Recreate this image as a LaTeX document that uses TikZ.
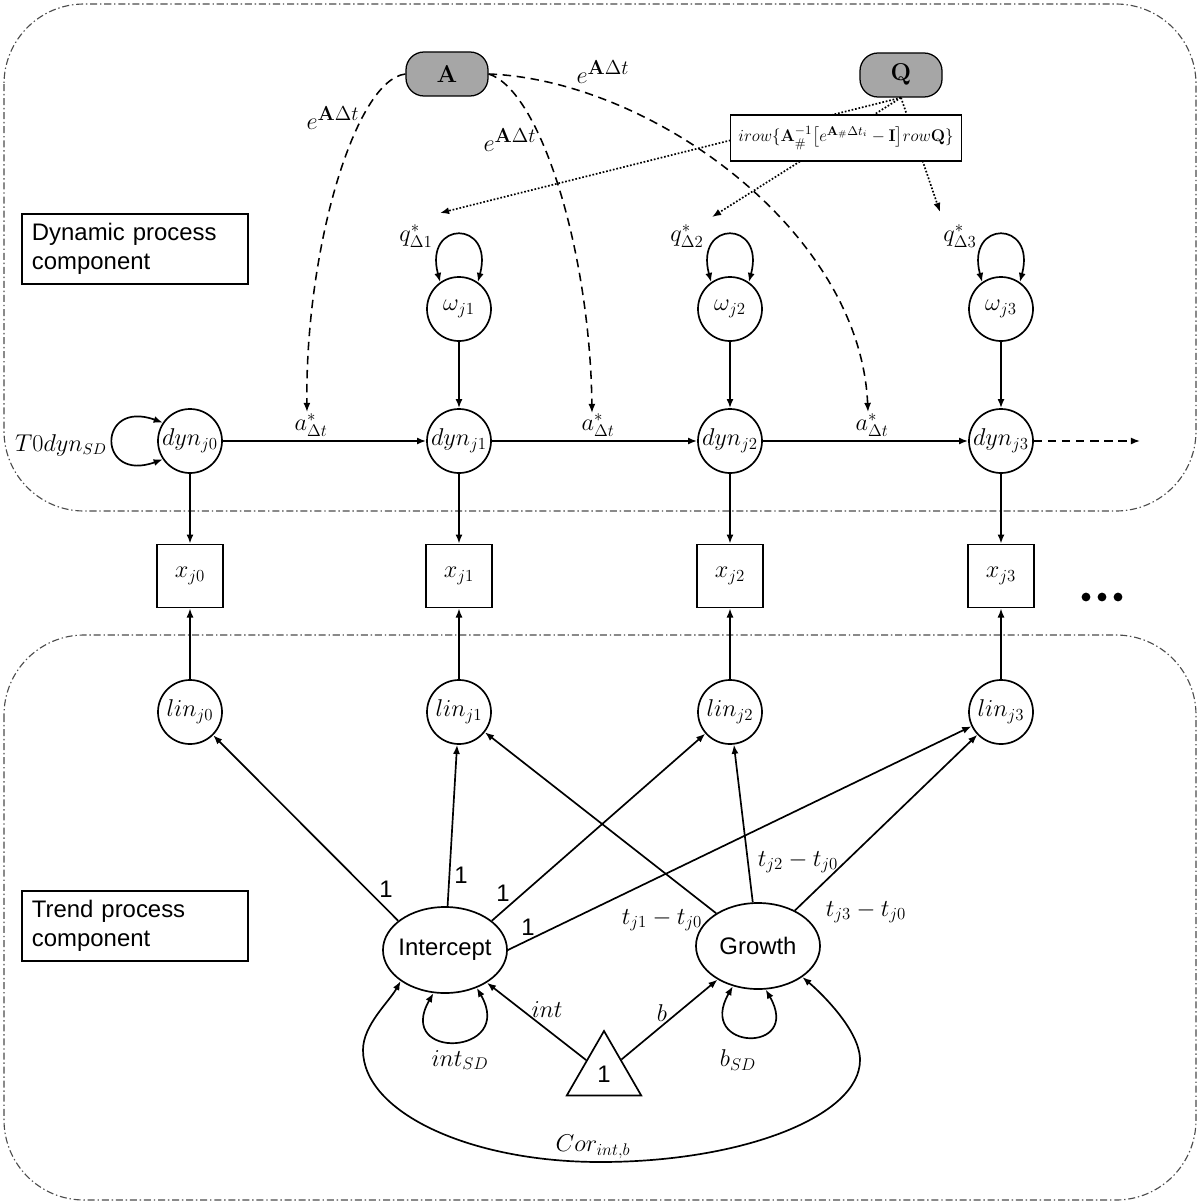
\documentclass[tikz,border=0pt]{standalone}
\usepackage[no-math]{fontspec}
\setmainfont{Liberation Sans}
\usepackage{amsmath}
\usetikzlibrary{arrows.meta,shapes.geometric}
\begin{document}
\begin{tikzpicture}[x=0.025cm,y=0.025cm,
  every node/.style={font=\fontsize{17}{21}\selectfont},
  >={Latex[length=6.5pt,width=5pt]},
  ln/.style={line width=1.2pt},
  lat/.style={circle,draw,line width=1.2pt,minimum size=1.6cm,inner sep=0pt},
  obs/.style={rectangle,draw,line width=1.2pt,minimum width=1.65cm,minimum height=1.575cm,inner sep=0pt},
  fac/.style={ellipse,draw,line width=1.2pt,minimum width=3.1cm,minimum height=2.15cm,inner sep=0pt},
  mat/.style={rectangle,draw,fill=black!35,rounded corners=0.45cm,minimum width=2.05cm,minimum height=1.1cm,line width=0.9pt,font=\fontsize{16}{19}\selectfont},
  frame/.style={draw=black!70,line width=0.8pt,dash pattern=on 5pt off 2pt on 1pt off 2pt,rounded corners=2cm},
  lbox/.style={draw,line width=1pt,minimum width=5.65cm,minimum height=1.75cm,text width=5.15cm,align=left,inner xsep=0.25cm},
  dsh/.style={line width=1.1pt,dash pattern=on 6pt off 4pt},
  dtt/.style={line width=1.2pt,dash pattern=on 1.2pt off 1.3pt},
  lab/.style={inner sep=1pt},
  big/.style={inner sep=1pt,font=\fontsize{19}{23}\selectfont},
]
\path[use as bounding box] (0,0) rectangle (1200,-1204);

% frames
\draw[frame] (4,-4) rectangle (1196,-511);
\draw[frame] (4,-635) rectangle (1196,-1200);

% component boxes
\node[lbox] (dpc) at (135,-249) {Dynamic process\\component};
\node[lbox] (tpc) at (135,-926) {Trend process\\component};

% matrices
\node[mat] (A) at (447,-74) {$\mathbf{A}$};
\node[mat] (Q) at (901,-75) {$\mathbf{Q}$};

% latent / observed
\node[lat] (d0) at (190,-441) {$dyn_{j0}$};
\node[lat] (d1) at (459,-441) {$dyn_{j1}$};
\node[lat] (d2) at (730,-441) {$dyn_{j2}$};
\node[lat] (d3) at (1001,-441) {$dyn_{j3}$};
\node[lat] (w1) at (459,-309) {$\omega_{j1}$};
\node[lat] (w2) at (730,-309) {$\omega_{j2}$};
\node[lat] (w3) at (1001,-309) {$\omega_{j3}$};
\node[obs] (x0) at (190,-576) {$x_{j0}$};
\node[obs] (x1) at (459,-576) {$x_{j1}$};
\node[obs] (x2) at (730,-576) {$x_{j2}$};
\node[obs] (x3) at (1001,-576) {$x_{j3}$};
\node[lat] (l0) at (190,-712) {$lin_{j0}$};
\node[lat] (l1) at (459,-712) {$lin_{j1}$};
\node[lat] (l2) at (730,-712) {$lin_{j2}$};
\node[lat] (l3) at (1001,-712) {$lin_{j3}$};
\node[fac] (I) at (445,-950) {\makebox[0pt]{Intercept}};
\node[fac] (G) at (758,-946) {\makebox[0pt]{Growth}};
\node[regular polygon,regular polygon sides=3,draw,line width=1.2pt,minimum size=2.15cm,inner sep=0pt] (T) at (604,-1074) {};
\node (one) at (604,-1074) {1};

% labels
\node[big] (e1) at (333,-118) {$e^{\mathbf{A}\Delta t}$};
\node[big] (e2) at (510,-140) {$e^{\mathbf{A}\Delta t}$};
\node[big] (e3) at (603,-72) {$e^{\mathbf{A}\Delta t}$};
\node[lab] (a1) at (311,-425) {$a^*_{\Delta t}$};
\node[lab] (a2) at (598,-425) {$a^*_{\Delta t}$};
\node[lab] (a3) at (872,-425) {$a^*_{\Delta t}$};
\node[lab] (q1) at (416,-236) {$q^*_{\Delta 1}$};
\node[lab] (q2) at (687,-236) {$q^*_{\Delta 2}$};
\node[lab] (q3) at (960,-236) {$q^*_{\Delta 3}$};
\node[lab,font=\fontsize{16}{19}\selectfont] (t0) at (61,-445) {$T0dyn_{SD}$};

% A paths
\coordinate (a1t) at (307,-412);
\coordinate (a2t) at (592,-413);
\coordinate (a3t) at (868,-412);
\draw[dsh,->] (A.west) .. controls (355,-80) and (305,-250) .. (a1t);
\draw[dsh,->] (A.east) .. controls (540,-90) and (590,-250) .. (a2t);
\draw[dsh,->] (A.east) .. controls (650,-80) and (860,-230) .. (a3t);

% Q paths
\coordinate (q1t) at (440,-213);
\coordinate (q2t) at (712,-217);
\coordinate (q3t) at (940,-212);
\draw[dtt,->] (Q.south) -- (q1t);
\draw[dtt,->] (Q.south) -- (q2t);
\draw[dtt,->] (Q.south) -- (q3t);
\node[draw,fill=white,line width=1pt,minimum width=5.78cm,minimum height=1.15cm,font=\fontsize{12.5}{15}\selectfont] (F) at (846,-138)
  {$irow\{\mathbf{A}_{\#}^{-1}\bigl[e^{\mathbf{A}_{\#}\Delta t_i}-\mathbf{I}\bigr]row\mathbf{Q}\}$};

% loops
\draw[ln,<->] (w1.125) to[out=105,in=75,looseness=4.4] (w1.55);
\draw[ln,<->] (w2.125) to[out=105,in=75,looseness=4.4] (w2.55);
\draw[ln,<->] (w3.125) to[out=105,in=75,looseness=4.4] (w3.55);
\draw[ln,<->] (d0.146) to[out=160,in=200,looseness=4.9] (d0.214);
\draw[ln,<->] (I.255) to[out=240,in=300,looseness=4.6] (I.310);
\draw[ln,<->] (G.238) to[out=240,in=300,looseness=5.8] (G.280);

% dynamic arrows
\draw[ln,->] (d0) -- (d1);
\draw[ln,->] (d1) -- (d2);
\draw[ln,->] (d2) -- (d3);
\coordinate (dend) at (1140,-441);
\draw[dsh,->] (d3) -- (dend);
\draw[ln,->] (w1) -- (d1);
\draw[ln,->] (w2) -- (d2);
\draw[ln,->] (w3) -- (d3);
\draw[ln,->] (d0) -- (x0);
\draw[ln,->] (d1) -- (x1);
\draw[ln,->] (d2) -- (x2);
\draw[ln,->] (d3) -- (x3);
\draw[ln,->] (l0) -- (x0);
\draw[ln,->] (l1) -- (x1);
\draw[ln,->] (l2) -- (x2);
\draw[ln,->] (l3) -- (x3);

% trend arrows
\draw[ln,->] (I.148) -- (l0);
\draw[ln,->] (I) -- (l1);
\draw[ln,->] (I.32) -- (l2);
\draw[ln,->] (I.east) -- (l3);
\draw[ln,->] (G) -- (l1);
\draw[ln,->] (G) -- (l2);
\draw[ln,->] (G) -- (l3);
\draw[ln,->] (T) -- (I);
\draw[ln,->] (T) -- (G);
\draw[ln,<->] (I.215) .. controls (389,-1002) and (363,-1025) .. (363,-1050)
  .. controls (363,-1112) and (469,-1162) .. (600,-1162)
  .. controls (743,-1162) and (860,-1116) .. (860,-1060)
  .. controls (860,-1030) and (820,-992) .. (G.-35);

% edge labels
\node[lab] (p1) at (386,-889) {1};
\node[lab] (p2) at (461,-875) {1};
\node[lab] (p3) at (503,-893) {1};
\node[lab] (p4) at (528,-927) {1};
\node[lab] (g1) at (662,-920) {$t_{j1}-t_{j0}$};
\node[lab] (g2) at (798,-862) {$t_{j2}-t_{j0}$};
\node[lab] (g3) at (866,-912) {$t_{j3}-t_{j0}$};
\node[lab] (li) at (547,-1010) {$int$};
\node[lab] (lb) at (662,-1013) {$b$};
\node[lab] (lis) at (460,-1060) {$int_{SD}$};
\node[lab] (lbs) at (738,-1060) {$b_{SD}$};
\node[lab] (lc) at (593,-1147) {$Cor_{int,b}$};

% ellipsis
\fill (1086,-597) circle (0.11cm);
\fill (1102,-597) circle (0.11cm);
\fill (1118,-597) circle (0.11cm);
\end{tikzpicture}
\end{document}
